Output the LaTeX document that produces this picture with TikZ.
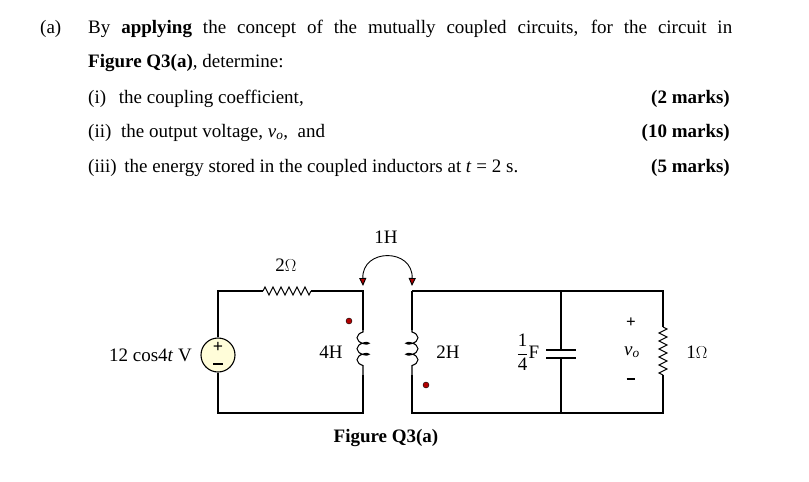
\documentclass[tikz,border=0pt]{standalone}
\usepackage{fontspec}
\setmainfont{Liberation Serif}
\usetikzlibrary{decorations.pathmorphing,arrows.meta}
\begin{document}
\begin{tikzpicture}[x=1pt,y=-1pt,
  txt/.style={anchor=base west,inner sep=0pt,font=\fontsize{19}{22}\selectfont},
  mk/.style={anchor=base east,inner sep=0pt,font=\fontsize{19}{22}\selectfont\bfseries},
  lbl/.style={inner sep=0pt,font=\fontsize{19}{22}\selectfont},
  w/.style={line width=1.1pt},
  dotc/.style={circle,fill=red!70!black,draw=black,line width=0.4pt,inner sep=0pt,minimum size=6pt}]
\useasboundingbox (0,0) rectangle (809,482);
% text
\node[txt] (ta) at (40,33) {(a)};
\node[txt] (t1) at (88,33) {\makebox[644pt][s]{By \textbf{applying} the concept of the mutually coupled circuits, for the circuit in}};
\node[txt] (t2) at (88,67) {\textbf{Figure Q3(a)}, determine:};
\node[txt] (t3) at (88,103) {(i)\hspace{8pt} the coupling coefficient,};
\node[txt] (t4) at (88,137) {(ii)\hspace{5pt} the output voltage, \textit{v\textsubscript{o}}, \ and};
\node[txt] (t5) at (88,172) {(iii)\hspace{3pt} the energy stored in the coupled inductors at \textit{t} = 2 s.};
\node[mk] (m1) at (730,103) {(2 marks)};
\node[mk] (m2) at (730,137) {(10 marks)};
\node[mk] (m3) at (730,172) {(5 marks)};
% circuit coordinates
\coordinate (tl) at (218,291); \coordinate (bl) at (218,413);
\coordinate (r1a) at (263,291); \coordinate (r1b) at (311,291);
\coordinate (l1t) at (363,291); \coordinate (l1b) at (363,413);
\coordinate (l2t) at (412,291); \coordinate (l2b) at (412,413);
\coordinate (ct) at (561,291); \coordinate (cb) at (561,413);
\coordinate (rt) at (663,291); \coordinate (rb) at (663,413);
\node[circle,draw,w,fill=yellow!15,minimum size=34pt,inner sep=0pt] (src) at (218,355) {};
\node[lbl,font=\fontsize{18}{18}\selectfont\bfseries] (sp) at (218,347) {+};
\node[lbl] (sm) at (218,364) {\rule{0.5em}{1.3pt}};
\draw[w] (src.north) -- (tl) -- (r1a);
\draw[w,decorate,decoration={zigzag,segment length=8pt,amplitude=4pt}] (r1a) -- (r1b);
\draw[w] (r1b) -- (l1t) -- (363,330);
\draw[w] (363,375) -- (l1b) -- (bl) -- (src.south);
\draw[w,decorate,decoration={coil,aspect=0.5,segment length=11pt,amplitude=6pt,mirror,pre length=2pt,post length=2pt}] (363,330) -- (363,375);
\draw[w] (l2t) -- (412,330);
\draw[w,decorate,decoration={coil,aspect=0.5,segment length=11pt,amplitude=6pt,pre length=2pt,post length=2pt}] (412,330) -- (412,375);
\draw[w] (412,375) -- (l2b) -- (rb) -- (663,375);
\draw[w] (l2t) -- (rt) -- (663,327);
\draw[w,decorate,decoration={zigzag,segment length=8pt,amplitude=4pt}] (663,327) -- (663,375);
% capacitor
\draw[w] (ct) -- (561,350); \draw[w] (561,358) -- (cb);
\draw[w] (546,350) -- (576,350); \draw[w] (546,358) -- (576,358);
% dots
\node[dotc] (d1) at (349,321) {};
\node[dotc] (d2) at (426,385) {};
% mutual arrow
\coordinate (ma) at (363,286); \coordinate (mb) at (412,286);
\draw[line width=0.9pt,{Triangle[length=8pt,width=7pt,fill=red!70!black]}-{Triangle[length=8pt,width=7pt,fill=red!70!black]}] (ma) .. controls (362,248) and (413,248) .. (mb);
% labels
\node[lbl] (l1h) at (386,237) {1H};
\node[lbl] (l2o) at (286,265) {2$\Omega$};
\node[lbl] (l4h) at (331,352) {4H};
\node[lbl] (l2h) at (448,352) {2H};
\node[lbl,anchor=east] (lsrc) at (192,355) {12 cos4\textit{t} V};
\node[lbl] (lc) at (528,352) {$\displaystyle\frac{\mathrm{1}}{\mathrm{4}}$F};
\node[lbl] (l1o) at (697,352) {1$\Omega$};
\node[lbl,font=\fontsize{17}{17}\selectfont\bfseries] (vp) at (631,323) {+};
\node[lbl] (vo) at (632,352) {\textit{v\textsubscript{o}}};
\node[lbl] (vm) at (631,379) {\rule{0.45em}{1.3pt}};
\node[lbl,font=\fontsize{19}{22}\selectfont\bfseries] (cap) at (386,438) {Figure Q3(a)};
\end{tikzpicture}
\end{document}
